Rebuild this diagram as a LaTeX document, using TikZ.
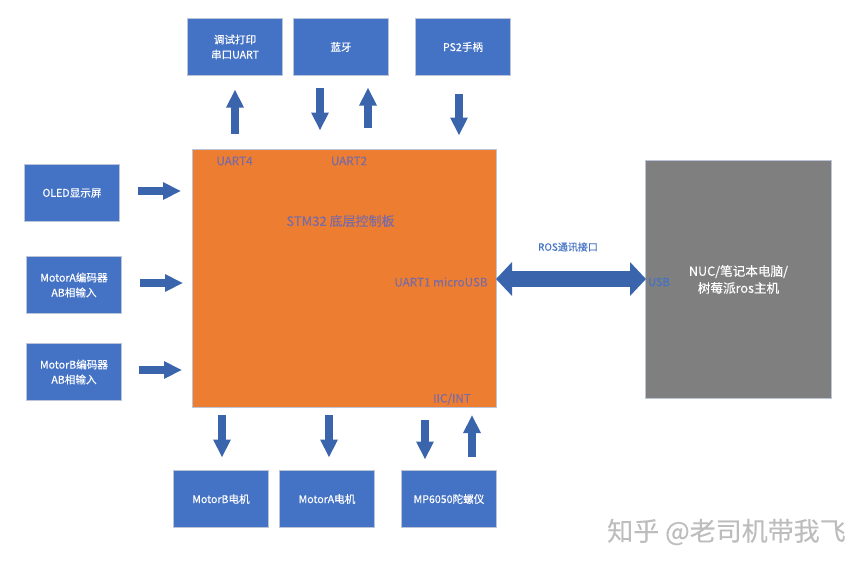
\documentclass[tikz,border=0pt]{standalone}
\usepackage{fontspec}
\setmainfont[FakeBold=0.18]{Noto Sans CJK SC}
\usetikzlibrary{arrows.meta}
\definecolor{boxblue}{HTML}{4472C4}
\definecolor{boxedge}{HTML}{BCC4D8}
\definecolor{arrowblue}{HTML}{3A65AD}
\definecolor{orangefill}{HTML}{ED7D31}
\definecolor{greyfill}{HTML}{7F7F7F}
\definecolor{portlabel}{HTML}{7A6BA5}
\definecolor{marktext}{HTML}{BDBDBD}
\tikzset{
  bluebox/.style={draw=boxedge,line width=1pt,fill=boxblue,text=white,minimum width=95pt,minimum height=57pt,inner sep=0pt,align=center,font=\fontsize{10.6}{15}\selectfont},
  blockarrow/.style={draw=arrowblue,line width=8pt,-{Triangle[length=18pt,width=16.5pt]}},
  wideblock/.style={draw=arrowblue,line width=16pt,{Triangle[length=16pt,width=33pt]}-{Triangle[length=16pt,width=33pt]}},
  portlab/.style={text=portlabel,inner sep=0pt,font=\fontsize{11.7}{12}\selectfont},
}
\begin{document}
\begin{tikzpicture}[x=1pt,y=-1pt]
\useasboundingbox (0,0) rectangle (867,565);
\node[bluebox] (dbg) at (235,47) {调试打印\\串口UART};
\node[bluebox] (ble) at (341,47) {蓝牙};
\node[bluebox] (ps2) at (463,47) {PS2手柄};
\node[bluebox] (oled) at (72,193) {OLED显示屏};
\node[bluebox] (enca) at (74,285) {MotorA编码器\\AB相输入};
\node[bluebox] (encb) at (74,372) {MotorB编码器\\AB相输入};
\node[draw=boxedge,line width=1pt,fill=orangefill,minimum width=304pt,minimum height=258pt,inner sep=0pt] (stm) at (344.5,278.5) {};
\node[draw=boxedge,line width=1pt,fill=greyfill,text=white,minimum width=186pt,minimum height=238pt,inner sep=0pt,align=center,font=\fontsize{12.6}{17}\selectfont] (nuc) at (738.5,279.5) {NUC/笔记本电脑/\\树莓派ros主机};
\node[bluebox] (mb) at (221,499) {MotorB电机};
\node[bluebox] (ma) at (327,499) {MotorA电机};
\node[bluebox] (mpu) at (449,499) {MP6050陀螺仪};
\node[portlab] (l1) at (234.5,161) {UART4};
\node[portlab] (l2) at (349,161) {UART2};
\node[portlab,font=\fontsize{13}{14}\selectfont] (l3) at (340.5,221) {STM32 底层控制板};
\node[portlab] (l4) at (441,282) {UART1 microUSB};
\node[portlab] (l5) at (452,399) {IIC/INT};
\node[text=boxblue,inner sep=0pt,font=\fontsize{11}{12}\selectfont] (l6) at (659,282) {USB};
\node[text=boxblue,inner sep=0pt,font=\fontsize{10}{12}\selectfont] (l7) at (568,247) {ROS通讯接口};
\node[text=marktext,inner sep=0pt,font=\fontsize{26}{28}\selectfont] (wm) at (726.5,532) {知乎 @老司机带我飞};
% guide coordinates for the block arrows
\coordinate (xa) at (320,0);
\coordinate (xb) at (368,0);
\coordinate (xc) at (459,0);
\coordinate (xd) at (222,0);
\coordinate (xe) at (329,0);
\coordinate (xf) at (425,0);
\coordinate (xg) at (472,0);
\coordinate (ya) at (0,191);
\coordinate (yb) at (0,283);
\coordinate (yc) at (0,370);
\coordinate (yd) at (0,279);
\draw[blockarrow,shorten <=15pt,shorten >=13.5pt] (stm.north -| dbg.south) -- (dbg.south);
\draw[blockarrow,shorten <=12pt,shorten >=18.5pt] (ble.south -| xa) -- (stm.north -| xa);
\draw[blockarrow,shorten <=21pt,shorten >=11.5pt] (stm.north -| xb) -- (ble.south -| xb);
\draw[blockarrow,shorten <=18pt,shorten >=13.5pt] (ps2.south -| xc) -- (stm.north -| xc);
\draw[blockarrow,shorten <=17.5pt,shorten >=11pt] (oled.east |- ya) -- (stm.west |- ya);
\draw[blockarrow,shorten <=17.5pt,shorten >=9pt] (enca.east |- yb) -- (stm.west |- yb);
\draw[blockarrow,shorten <=16.5pt,shorten >=10pt] (encb.east |- yc) -- (stm.west |- yc);
\draw[blockarrow,shorten <=7pt,shorten >=12.5pt] (stm.south -| xd) -- (mb.north -| xd);
\draw[blockarrow,shorten <=7pt,shorten >=12.5pt] (stm.south -| xe) -- (ma.north -| xe);
\draw[blockarrow,shorten <=12pt,shorten >=10.5pt] (stm.south -| xf) -- (mpu.north -| xf);
\draw[blockarrow,shorten <=13pt,shorten >=7pt] (mpu.north -| xg) -- (stm.south -| xg);
\draw[wideblock,shorten <=-1pt,shorten >=-1pt] (stm.east |- yd) -- (nuc.west |- yd);
\end{tikzpicture}
\end{document}
